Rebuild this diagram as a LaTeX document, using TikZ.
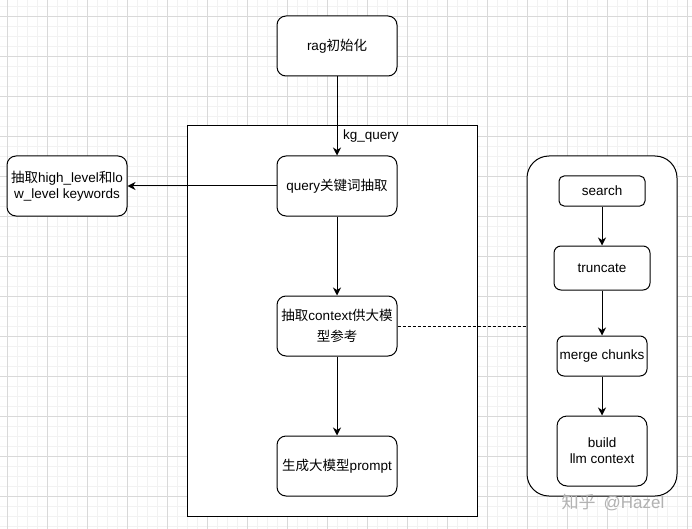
\documentclass[tikz,border=0pt]{standalone}
\usepackage{fontspec}
\setmainfont{Liberation Sans}
\newfontfamily\cjk{Noto Sans CJK SC}
\usetikzlibrary{arrows.meta}
\tikzset{
  box/.style={draw=black, line width=1pt, fill=white, rounded corners=9pt, align=center, inner sep=0pt, font=\fontsize{13.5}{17}\selectfont},
  frame/.style={draw=black, line width=1pt, fill=white, inner sep=0pt},
  arr/.style={draw=black, line width=1pt, -{Stealth[length=8pt,width=8pt,inset=2.5pt]}},
  dashedlink/.style={draw=black, line width=0.9pt, dash pattern=on 3pt off 2pt},
  minorgrid/.style={draw=black!5, line width=0.6pt},
  majorgrid/.style={draw=black!15, line width=0.8pt},
  lbl/.style={inner sep=0pt, font=\fontsize{13.5}{17}\selectfont},
  wm/.style={inner sep=0pt, text=black!30, font=\fontsize{17}{20}\selectfont}
}
\begin{document}
\begin{tikzpicture}[x=1pt, y=-1pt]
\useasboundingbox (0,0) rectangle (692,529);
\fill[white] (0,0) rectangle (692,529);
% grid
\foreach \gx in {-3,7,...,697} \draw[minorgrid] (\gx,0) -- (\gx,529);
\foreach \gy in {6,16,...,536} \draw[minorgrid] (0,\gy) -- (692,\gy);
\foreach \gx in {7,47,...,687} \draw[majorgrid] (\gx,0) -- (\gx,529);
\foreach \gy in {16,56,...,536} \draw[majorgrid] (0,\gy) -- (692,\gy);

% containers
\node[frame, minimum width=290pt, minimum height=390pt] (kg) at (332,321) {};
\node[lbl, anchor=west] (kglabel) at (343,136) {kg\_query};
\node[frame, rounded corners=22pt, minimum width=150pt, minimum height=340pt] (right) at (602,326) {};

% main nodes
\node[box, minimum width=120pt, minimum height=60pt] (rag) at (337,46) {rag{\cjk 初始化}};
\node[box, minimum width=120pt, minimum height=60pt] (query) at (337,186) {query{\cjk 关键词抽取}};
\node[box, minimum width=120pt, minimum height=60pt] (hl) at (67,186) {{\cjk 抽取}high\_level{\cjk 和}lo\\[-1pt]w\_level keywords};
\node[box, minimum width=120pt, minimum height=60pt] (ctx) at (337,326) {{\cjk 抽取}context{\cjk 供大模}\\[4pt]{\cjk 型参考}};
\node[box, minimum width=120pt, minimum height=60pt] (prompt) at (337,466) {{\cjk 生成大模型}prompt};

% right nodes
\node[box, rounded corners=5pt, minimum width=86pt, minimum height=30pt] (search) at (602,191) {search};
\node[box, rounded corners=7pt, minimum width=96pt, minimum height=44pt] (trunc) at (602,268) {truncate};
\node[box, rounded corners=7pt, minimum width=90pt, minimum height=40pt] (merge) at (602,356) {merge chunks};
\node[box, rounded corners=10pt, minimum width=90pt, minimum height=70pt] (build) at (602,451) {build\\[-1pt]llm context};

% connectors
\draw[arr] (rag.south) -- (query.north);
\draw[arr] (query.west) -- (hl.east);
\draw[arr] (query.south) -- (ctx.north);
\draw[arr] (ctx.south) -- (prompt.north);
\draw[arr] (search.south) -- (trunc.north);
\draw[arr] (trunc.south) -- (merge.north);
\draw[arr] (merge.south) -- (build.north);
\draw[dashedlink] (ctx.east) -- (right.west);

% watermark
\node[wm] (mark) at (613,503) {{\cjk 知乎}\hspace{8pt}@Hazel};
\end{tikzpicture}
\end{document}
